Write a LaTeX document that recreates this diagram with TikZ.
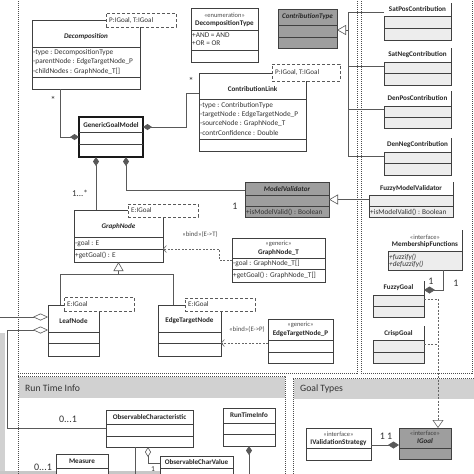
\documentclass[tikz,border=0pt]{standalone}
\usepackage{fontspec}
\setmainfont{Carlito}
\usetikzlibrary{arrows.meta,calc}
\tikzset{
  umlcls/.style={draw=black!75, line width=0.6pt, fill=white, inner sep=0pt, outer sep=0pt},
  sepline/.style={draw=black!75, line width=0.6pt},
  conn/.style={draw=black!65, line width=0.6pt},
  dep/.style={draw=black!60, line width=0.6pt, dash pattern=on 2pt off 1.5pt},
  tmpl/.style={draw=black!65, line width=0.9pt, dash pattern=on 3pt off 2pt, fill=white, inner sep=0pt, outer sep=0pt},
  container/.style={draw=black!70, line width=0.6pt, dash pattern=on 1pt off 1pt},
  hdr/.style={fill=black!18},
  nm/.style={font=\fontsize{7.1}{8}\selectfont\bfseries, inner sep=0pt, text=black!85},
  nmi/.style={font=\fontsize{7.1}{8}\selectfont\bfseries\itshape, inner sep=0pt, text=black!85},
  attr/.style={font=\fontsize{7.3}{8}\selectfont, inner sep=0pt, anchor=west, text=black!80},
  attri/.style={font=\fontsize{7.3}{8}\selectfont\itshape, inner sep=0pt, anchor=west, text=black!80},
  st/.style={font=\fontsize{6.5}{7}\selectfont, inner sep=0pt, text=black!70},
  lbl/.style={font=\fontsize{10}{11}\selectfont, inner sep=0pt, text=black!80},
  hdrtxt/.style={font=\fontsize{9.7}{11}\selectfont, inner sep=0pt, anchor=west, text=black!80},
  tmpltxt/.style={font=\fontsize{7.1}{8}\selectfont, inner sep=0pt, anchor=west, text=black!80},
}
\newcommand{\umlbox}[7][]{%
  \node[umlcls,#1, minimum width={#5-#3}, minimum height={#6-#4}] (#2) at ({(#3+#5)/2},{(#4+#6)/2}) {};
  \foreach \s in {#7} {\draw[sepline] (#3,\s) -- (#5,\s);}
}
\newcommand{\umlhead}[4]{\fill[white] ({#1+0.4},{#2+0.4}) rectangle ({#3-0.4},{#4-0.3});}
\newcommand{\tmplbox}[6]{%
  \node[tmpl, minimum width={#4-#2}, minimum height={#5-#3}] (#1) at ({(#2+#4)/2},{(#3+#5)/2}) {};
  \node[tmpltxt] (#1t) at ([xshift=3pt]#1.west) {#6};
}
\begin{document}
\begin{tikzpicture}[x=1pt,y=-1pt]
\useasboundingbox (0,0) rectangle (474,474);
\clip (0,0) rectangle (474,474);
\fill[white] (0,0) rectangle (474,474);

% side bands
\fill[black!18] (0,333) rectangle (5,474);
\fill[black!22] (0,471) rectangle (165,474);

% containers
\draw[container] (18,-5) rectangle (357,373);
\draw[container] (361,-5) rectangle (472,373);
\fill[hdr] (18.5,377) rectangle (285,398);
\draw[container] (18,373) -- (18,480);
\draw[container] (18,376) -- (285,376) -- (285,480);
\node[hdrtxt] (rtih) at (25,388) {Run Time Info};
\fill[hdr] (293.5,379) rectangle (474,399);
\draw[container] (293,480) -- (293,378) -- (480,378);
\node[hdrtxt] (gth) at (300,389) {Goal Types};

% Decomposition
\umlbox{dec}{32}{20}{140}{89}{47,77}
\node[nmi] (decn) at (86,37) {Decomposition};
\node[attr] (deca1) at (33,53) {-type : DecompositionType};
\node[attr] (deca2) at (33,62) {-parentNode : EdgeTargetNode\_P};
\node[attr] (deca3) at (33,71) {-childNodes : GraphNode\_T[]};
\tmplbox{dect}{106}{13}{176}{27}{P:IGoal, T:IGoal}

% DecompositionType
\umlbox{dt}{191}{8}{258}{62}{30,50}
\node[st] (dts) at (224.5,15) {«enumeration»};
\node[nm] (dtn) at (224.5,24) {DecompositionType};
\node[attr] (dta1) at (192,35) {+AND = AND};
\node[attr] (dta2) at (192,43) {+OR = OR};

% ContributionType
\umlbox[fill=black!38]{ct}{278}{9}{337}{48}{25,37}
\node[nmi] (ctn) at (307.5,17) {ContributionType};

% contributions
\umlbox[fill=black!7]{sp}{384}{3}{451}{40}{16,28}
\umlhead{384}{3}{451}{16}
\node[nm] (spn) at (417.5,9.5) {SatPosContribution};
\umlbox[fill=black!7]{sn}{384}{48}{451}{85}{62,73}
\umlhead{384}{48}{451}{62}
\node[nm] (snn) at (417.5,55) {SatNegContribution};
\umlbox[fill=black!7]{dp}{384}{91}{451}{128}{106,117}
\umlhead{384}{91}{451}{106}
\node[nm] (dpn) at (417.5,98.5) {DenPosContribution};
\umlbox[fill=black!7]{dn}{384}{138}{451}{175}{152,163}
\umlhead{384}{138}{451}{152}
\node[nm] (dnn) at (417.5,145) {DenNegContribution};

% GenericGoalModel
\umlbox[line width=1.3pt, draw=black!90]{ggm}{79}{117}{143}{157}{132,144}
\node[nm] (ggmn) at (111,125) {GenericGoalModel};

% ContributionLink
\umlbox{cl}{199}{73}{306}{151}{99,139}
\node[nm] (cln) at (252.5,89) {ContributionLink};
\node[attr] (cla1) at (200,106) {-type : ContributionType};
\node[attr] (cla2) at (200,115) {-targetNode : EdgeTargetNode\_P};
\node[attr] (cla3) at (200,124) {-sourceNode : GraphNode\_T};
\node[attr] (cla4) at (200,133) {-contrConfidence : Double};
\tmplbox{clt}{272}{64}{340}{81}{P:IGoal, T:IGoal}

% ModelValidator
\umlbox[fill=black!38]{mv}{245}{182}{329}{217}{195,206}
\node[nmi] (mvn) at (287,189) {ModelValidator};
\node[attr] (mvo) at (246,212) {+isModelValid() : Boolean};

% FuzzyModelValidator
\umlbox[fill=black!7]{fmv}{369}{182}{453}{217}{195,206}
\umlhead{369}{182}{453}{195}
\node[nm] (fmvn) at (411,189) {FuzzyModelValidator};
\node[attr] (fmvo) at (370,212) {+isModelValid() : Boolean};

% MembershipFunctions
\umlbox[fill=black!7]{mf}{388}{230}{462}{270}{251}
\umlhead{388}{230}{462}{251}
\node[st] (mfs) at (425,237) {«interface»};
\node[nm] (mfn) at (425,245) {MembershipFunctions};
\node[attri] (mfo1) at (389,257) {+fuzzify()};
\node[attri] (mfo2) at (389,264.5) {+defuzzify()};

% FuzzyGoal, CrispGoal
\umlbox[fill=black!7]{fg}{373}{281}{424}{317}{295,306}
\umlhead{373}{281}{424}{295}
\node[nm] (fgn) at (398.5,288) {FuzzyGoal};
\umlbox[fill=black!7]{cg}{373}{326}{424}{363}{340,352}
\umlhead{373}{326}{424}{340}
\node[nm] (cgn) at (398.5,333.5) {CrispGoal};

% GraphNode
\umlbox{gn}{74}{210}{163}{262}{237,249}
\node[nmi] (gnn) at (118.5,227) {GraphNode};
\node[attr] (gna) at (75,243.5) {-goal : E};
\node[attr] (gno) at (75,255.5) {+getGoal() : E};
\tmplbox{gnt0}{128}{204}{198}{217}{E:IGoal}

% GraphNode_T
\umlbox{gnt}{232}{238}{325}{282}{258,269}
\node[st] (gnts) at (278.5,244) {«generic»};
\node[nm] (gntn) at (278.5,252.5) {GraphNode\_T};
\node[attr] (gnta) at (233,263.5) {-goal : GraphNode\_T[]};
\node[attr] (gnto) at (233,275.5) {+getGoal() : GraphNode\_T[]};

% LeafNode
\umlbox{ln}{48}{305}{99}{356}{332,343}
\node[nm] (lnn) at (73.5,321) {LeafNode};
\tmplbox{lnt}{64}{297}{134}{311}{E:IGoal}

% EdgeTargetNode
\umlbox{etn}{158}{305}{221}{356}{332,343}
\node[nm] (etnn) at (189.5,321) {EdgeTargetNode};
\tmplbox{etnt}{185}{298}{255}{311}{E:IGoal}

% EdgeTargetNode_P
\umlbox{etp}{268}{319}{333}{363}{340,352}
\node[st] (etps) at (300.5,324.5) {«generic»};
\node[nm] (etpn) at (300.5,333.5) {EdgeTargetNode\_P};

% Run time info classes
\umlbox{oc}{106}{410}{193}{447}{424,436}
\node[nm] (ocn) at (149.5,417) {ObservableCharacteristic};
\umlbox{rti}{223}{408}{275}{446}{423,434}
\node[nm] (rtin) at (249,415) {RunTimeInfo};
\umlbox{ocv}{160}{456}{233}{490}{468}
\node[nm] (ocvn) at (196.5,462.5) {ObservableCharValue};
\umlbox{ms}{56}{454}{108}{490}{468}
\node[nm] (msn) at (82,461) {Measure};

% Goal types
\umlbox{ivs}{306}{428}{371}{460}{448}
\node[st] (ivss) at (338.5,434) {«interface»};
\node[nm] (ivsn) at (338.5,442.5) {IValidationStrategy};
\umlbox[fill=black!38]{ig}{399}{428}{451}{459}{448}
\node[st, text=black!75] (igs) at (425,433.5) {«interface»};
\node[nmi] (ign) at (425,441) {IGoal};

% ---------- connectors ----------
\draw[conn,-{Diamond[length=9pt,width=6pt]}] ([xshift=28pt]dec.south west) |- (ggm.west);
\draw[conn,{Diamond[length=9pt,width=6pt]}-] ([yshift=10pt]ggm.east) -- ++(43,0) |- ([yshift=-20pt]cl.north west);
\coordinate (g1) at ([xshift=17pt]ggm.south west);
\draw[conn,{Diamond[length=9pt,width=6pt]}-] (g1) -- (g1 |- gn.north);
\coordinate (g2) at ([xshift=47pt]ggm.south west);
\draw[conn,{Diamond[length=9pt,width=6pt]}-] (g2) |- ([yshift=-8pt]mv.north west);

\coordinate (gj) at (348,30);
\draw[conn,-{Triangle[open,length=9pt,width=10pt]}] (gj) -- (gj -| ct.east);
\draw[conn] ([yshift=-9pt]sp.north west) -| (gj);
\draw[conn] (sn.west) -| (gj);
\draw[conn] (dp.west) -| (gj);
\draw[conn] (dn.west) -| (gj);

\draw[conn,-{Triangle[open,length=9pt,width=10pt]}] (fmv.west) -- (mv.east);

\draw[dep,-{Straight Barb[length=3pt,width=7pt]}] (gnt.west) -- ++(-13,0) |- ([yshift=13pt]gn.south east);
\draw[dep,-{Straight Barb[length=3pt,width=7pt]}] ([yshift=-2pt]etp.west) -- ([yshift=-2pt]etp.west -| etn.east);

\coordinate (gj2) at (118.5,274);
\draw[conn,-{Triangle[open,length=9pt,width=10pt]}] (gj2) -- (gn.south);
\draw[conn] ([xshift=12pt]ln.north west) |- (gj2);
\draw[conn] ([xshift=15pt]etn.north west) |- (gj2);

\coordinate (off1) at (-2,317);
\draw[conn,{Diamond[open,length=15pt,width=7pt]}-] ([yshift=-12pt]ln.north west) -- (off1);
\draw[conn,{Diamond[open,length=15pt,width=7pt]}-] ([yshift=-25pt]ln.north west) -- ++(-41,0) |- (oc.west);

\draw[conn,{Diamond[length=11pt,width=7pt]}-] ([yshift=-9pt]fg.north east) -| ([xshift=55pt]mf.south west);

\coordinate (rj) at ([xshift=39pt]ig.north west);
\draw[dep,-{Triangle[open,length=8pt,width=11pt]}] (fg.east) -| (rj);
\draw[dep] (cg.east) -- (cg.east -| rj);

\draw[conn,-{Diamond[length=11pt,width=7pt]}] ([yshift=-1pt]ivs.east) -- ([yshift=-1pt]ivs.east -| ig.west);

\coordinate (off3) at (249,480);
\draw[conn,{Diamond[length=9pt,width=6pt]}-] (rti.south) -- (off3);

\coordinate (g3) at ([xshift=42pt]oc.south west);
\draw[conn,{Diamond[open,length=10pt,width=6pt]}-] (g3) |- ([yshift=-7pt]ocv.north west);
\coordinate (g4) at ([xshift=29pt]oc.south west);
\coordinate (off4) at (135,480);
\draw[conn] (g4) -- (off4);
\draw[conn,{Diamond[open,length=13pt,width=8pt]}-] ([yshift=-24pt]ms.north east) -- ([yshift=-24pt]ms.north east -| g4);

% multiplicities
\node[lbl] (m1) at (53,100) {*};
\node[lbl] (m2) at (191,81) {*};
\node[lbl,font=\fontsize{9}{10}\selectfont] (m3) at (80,193) {1...*};
\node[lbl] (m4) at (235,206) {1};
\node[lbl] (m5) at (431,281) {1};
\node[lbl] (m6) at (456,283) {1};
\node[lbl] (m7) at (386,436) {1 1};
\node[lbl] (m8) at (68,419) {0...1};
\node[lbl] (m9) at (43,467) {0...1};
\node[lbl,font=\fontsize{7.5}{8}\selectfont] (m10) at (153,469) {1};
\node[st,font=\fontsize{6.8}{8}\selectfont] (b1) at (200,234) {«bind»(E->T)};
\node[st,font=\fontsize{6.8}{8}\selectfont] (b2) at (247,329) {«bind»(E->P)};
\end{tikzpicture}
\end{document}
